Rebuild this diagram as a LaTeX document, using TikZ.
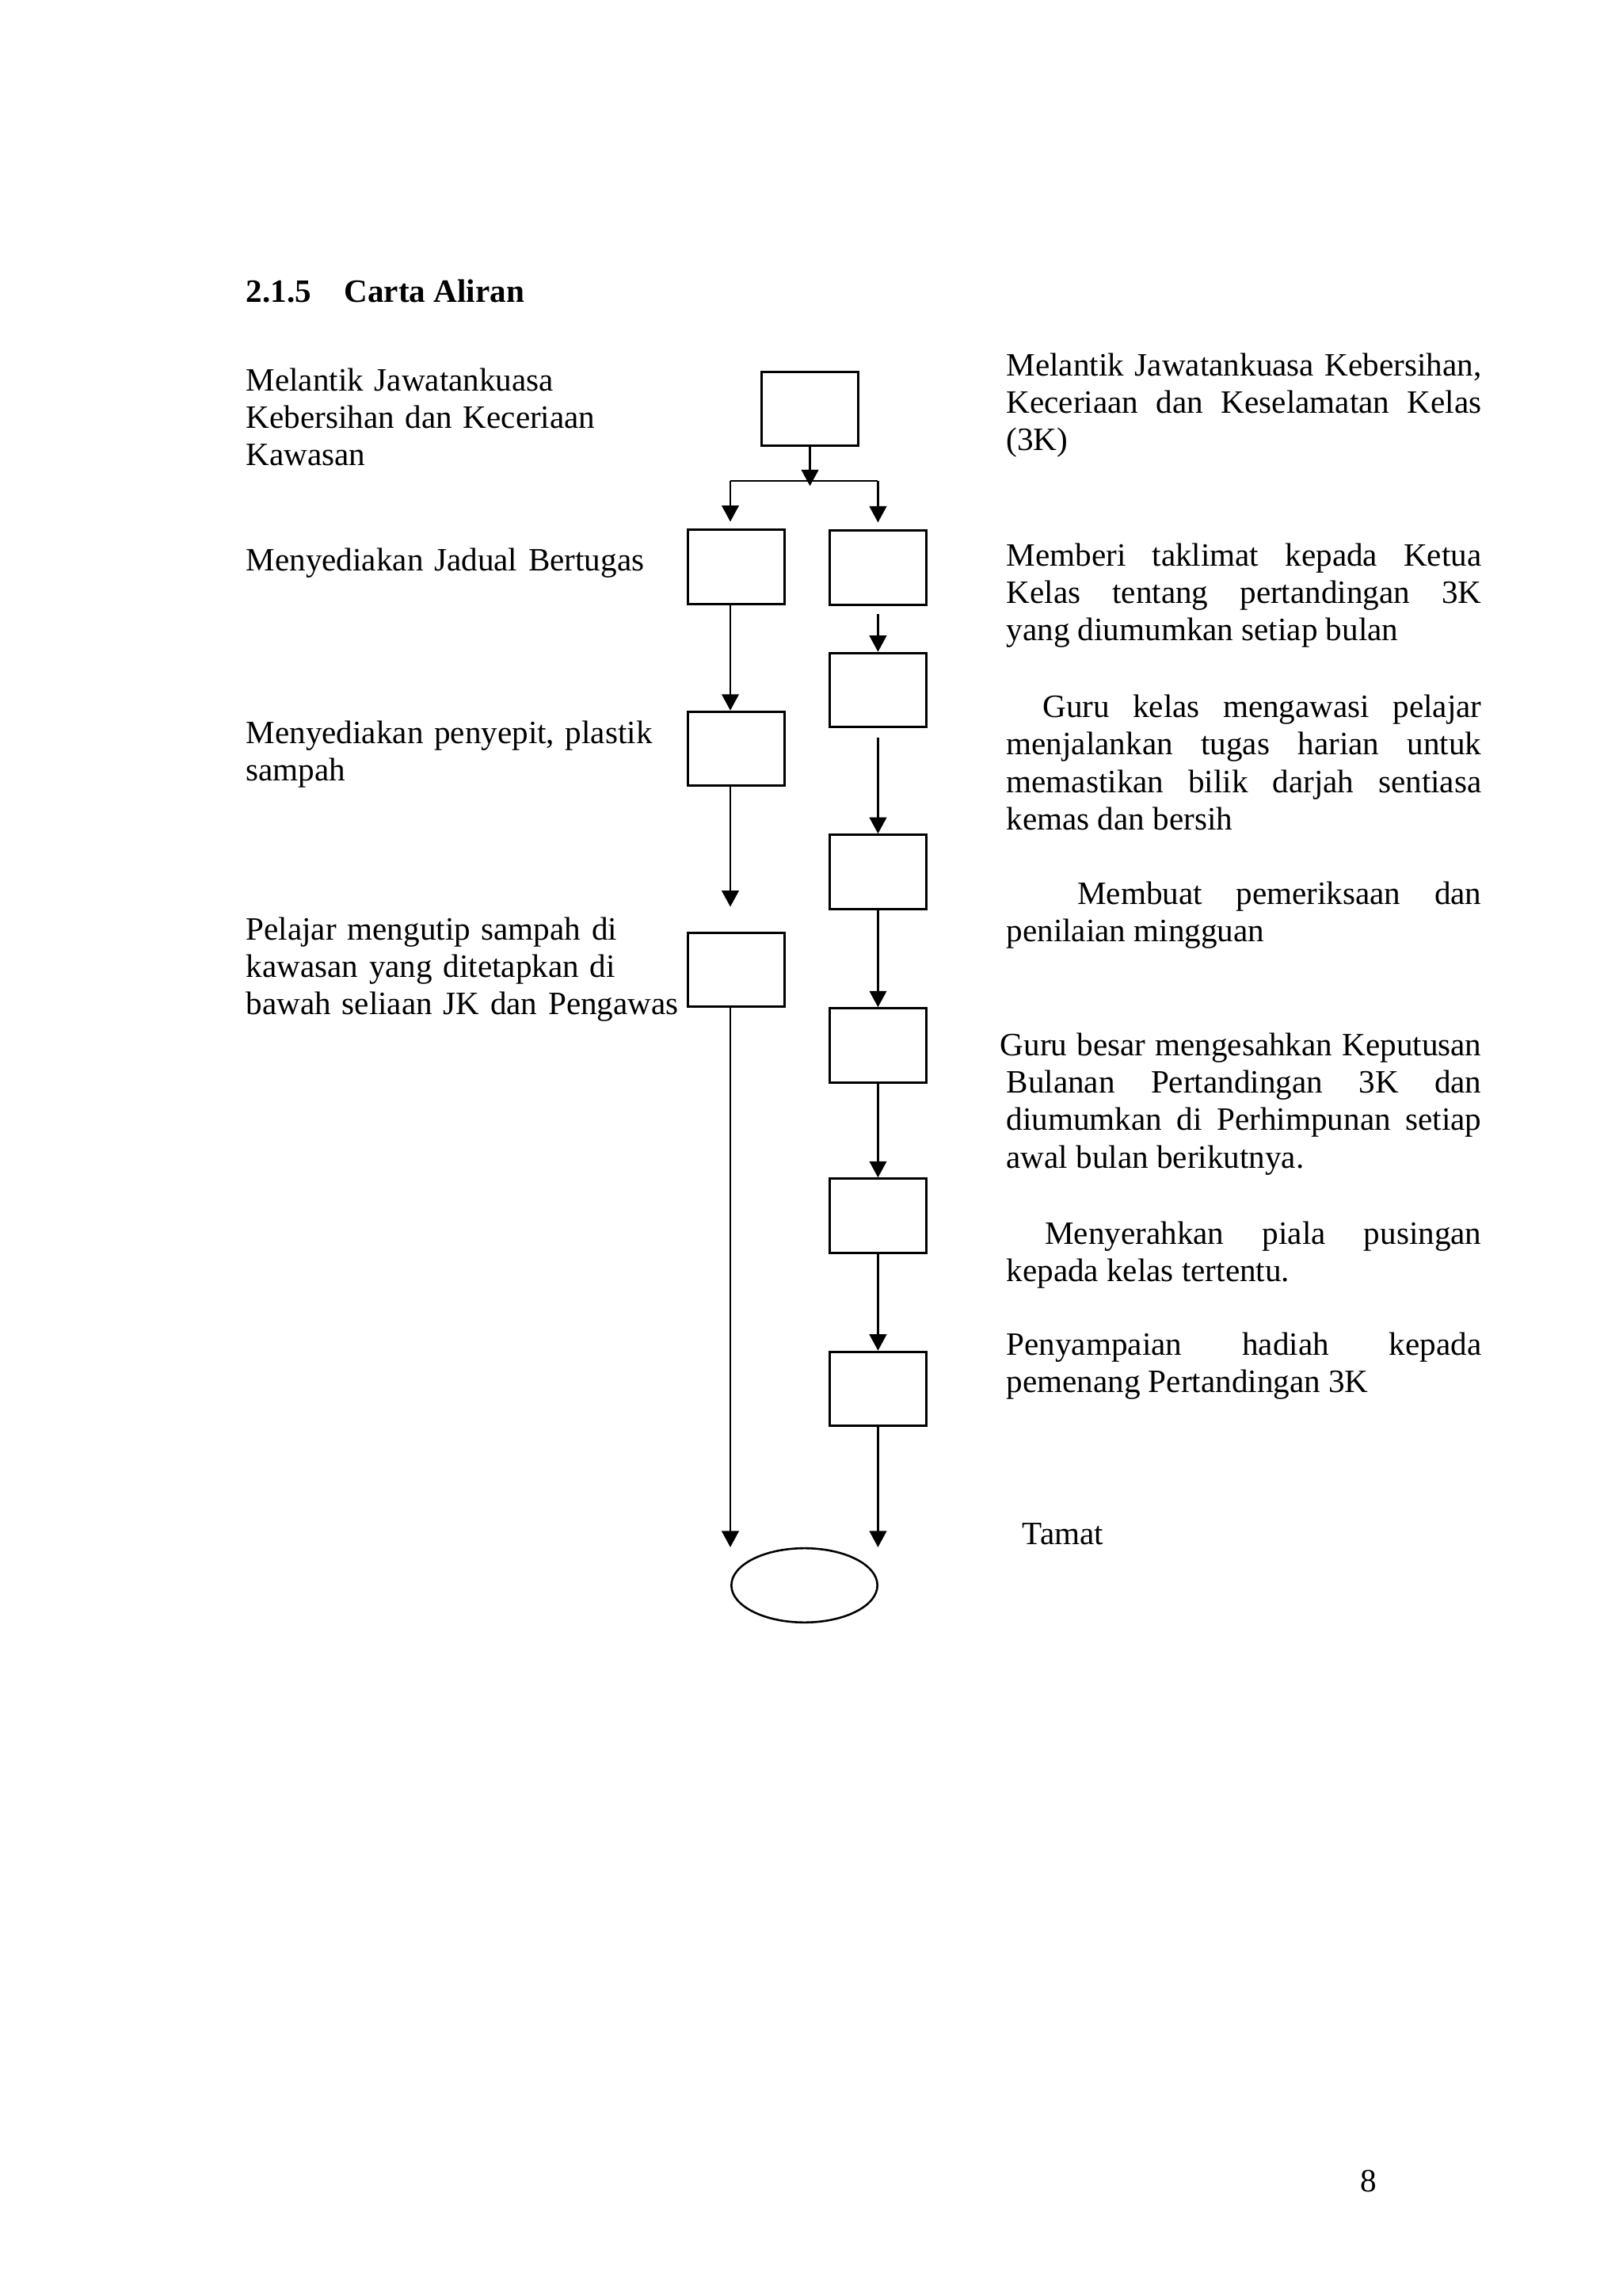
\documentclass[tikz,border=0pt]{standalone}
\usepackage{fontspec}
\setmainfont{Liberation Serif}
\usepackage{tikz}
\usetikzlibrary{arrows.meta, positioning, shapes.geometric, calc}

\begin{document}
\begin{tikzpicture}[
    box/.style={draw, line width=0.85pt, minimum width=1.25cm, minimum height=0.96cm, inner sep=0pt},
    term/.style={draw, ellipse, line width=0.75pt, minimum width=1.89cm, minimum height=0.96cm, inner sep=0pt},
    arr/.style={-{Triangle[length=0.21cm, width=0.22cm]}, line width=0.8pt},
    ltxt/.style={anchor=base west, inner sep=0pt, text width=5.8cm, align=left, font=\fontsize{12}{13.8}\selectfont},
    rtxt/.style={anchor=base west, inner sep=0pt, text width=6.15cm, align=justify, font=\fontsize{12}{13.8}\selectfont,
        execute at begin node={\tolerance=10000 \hyphenpenalty=10000 \hbadness=10000\relax}}
]
    \useasboundingbox (0,0) rectangle (21,-29.716);

    % Title
    \node[anchor=base west, inner sep=0pt, font=\fontsize{12}{13.8}\selectfont\bfseries] (title) at (3.179,-3.907) {\makebox[1.27cm][l]{2.1.5}Carta Aliran};

    % Boxes
    \node[box] (top) at (10.485,-5.291) {};
    \node[box] (l1) at (9.531,-7.337) {};
    \node[box] (l2) at (9.531,-9.690) {};
    \node[box] (l3) at (9.531,-12.551) {};
    \node[box] (r1) at (11.366,-7.347) {};
    \node[box] (r2) at (11.366,-8.931) {};
    \node[box] (r3) at (11.366,-11.284) {};
    \node[box] (r4) at (11.366,-13.530) {};
    \node[box] (r5) at (11.366,-15.735) {};
    \node[box] (r6) at (11.366,-17.975) {};
    \node[term] (end) at (10.413,-20.518) {};

    % Branch
    \coordinate (fork) at (10.485,-6.29);
    \coordinate (bl) at (9.454,-6.224);
    \coordinate (br) at (11.366,-6.224);
    \draw[line width=0.5pt] (bl) -- (br);
    \draw[arr] (top.south) -- (fork);

    % Left column
    \draw[arr, shorten >=0.09cm] (bl) -- (bl |- l1.north);
    \draw[arr] (l1.south -| bl) -- (l2.north -| bl);
    \draw[arr, shorten >=0.32cm] (l2.south -| bl) -- (l3.north -| bl);
    \draw[arr] (l3.south -| bl) -- (end.north -| bl);

    % Right column
    \draw[arr, shorten >=0.09cm] (br) -- (r1.north);
    \draw[arr, shorten <=0.1cm] (r1.south) -- (r2.north);
    \draw[arr, shorten <=0.12cm] (r2.south) -- (r3.north);
    \draw[arr] (r3) -- (r4);
    \draw[arr] (r4) -- (r5);
    \draw[arr] (r5) -- (r6);
    \draw[arr] (r6.south) -- (end.north -| r6.south);

    % Left texts
    \node[ltxt] (m1) at (3.179,-5.059) {Melantik Jawatankuasa\\Kebersihan dan Keceriaan\\Kawasan};
    \node[ltxt] (m2) at (3.179,-7.387) {Menyediakan Jadual Bertugas};
    \node[ltxt] (m3) at (3.179,-9.622) {Menyediakan penyepit, plastik\\sampah};
    \node[ltxt] (m4) at (3.179,-12.165) {Pelajar mengutip sampah di\\kawasan yang ditetapkan di\\bawah seliaan JK dan Pengawas};

    % Right texts
    \node[rtxt] (t1) at (13.022,-4.864) {Melantik Jawatankuasa Kebersihan,\linebreak Keceriaan dan Keselamatan Kelas\linebreak (3K)};
    \node[rtxt] (t2) at (13.022,-7.325) {Memberi taklimat kepada Ketua\linebreak Kelas tentang pertandingan 3K\linebreak yang diumumkan setiap bulan};
    \node[rtxt] (t3) at (13.022,-9.284) {\hspace*{0.47cm}Guru kelas mengawasi pelajar\linebreak menjalankan tugas harian untuk\linebreak memastikan bilik darjah sentiasa\linebreak kemas dan bersih};
    \node[rtxt] (t4) at (13.022,-11.704) {\hspace*{0.92cm}Membuat pemeriksaan dan\linebreak penilaian mingguan};
    \node[rtxt] (t5) at (13.022,-13.662) {\hspace*{-0.08cm}Guru besar mengesahkan Keputusan\linebreak Bulanan Pertandingan 3K dan\linebreak diumumkan di Perhimpunan setiap\linebreak awal bulan berikutnya.};
    \node[rtxt] (t6) at (13.022,-16.103) {\hspace*{0.5cm}Menyerahkan piala pusingan\linebreak kepada kelas tertentu.};
    \node[rtxt] (t7) at (13.022,-17.538) {Penyampaian hadiah kepada\linebreak pemenang Pertandingan 3K};
    \node[ltxt] (tamat) at (13.228,-19.989) {Tamat};

    % Page number
    \node[anchor=base, inner sep=0pt, font=\fontsize{12}{13.8}\selectfont] (pg) at (17.72,-28.372) {8};
\end{tikzpicture}
\end{document}
